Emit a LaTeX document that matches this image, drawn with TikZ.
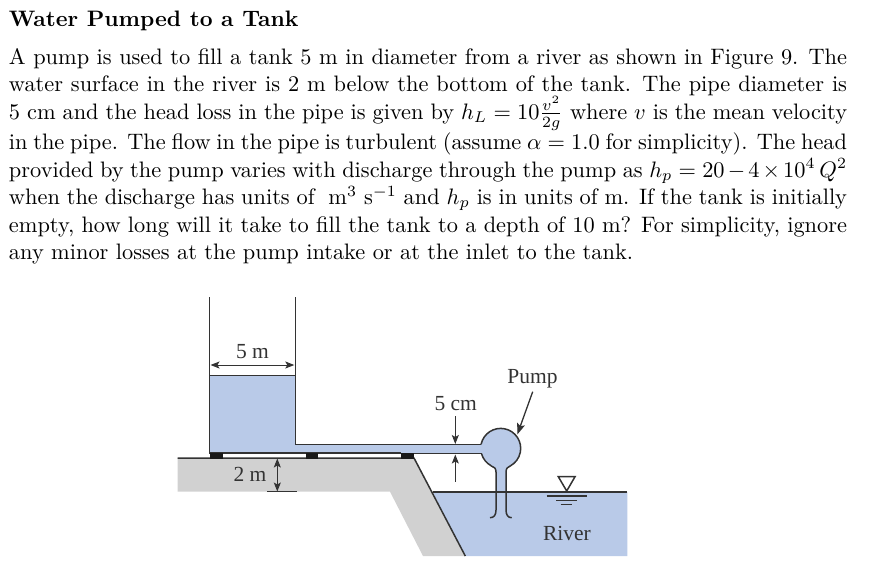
\documentclass[tikz,border=0pt]{standalone}
\usepackage[no-math]{fontspec}
\newfontfamily\figfont{Liberation Serif}
\usetikzlibrary{arrows.meta}
\definecolor{waterblue}{HTML}{B9CAE8}
\definecolor{groundgray}{HTML}{D1D1D1}
\definecolor{inkline}{HTML}{333333}
\tikzset{
  textline/.style={anchor=base west,inner sep=0pt,outer sep=0pt,scale=2.236},
  figlabel/.style={inner sep=0pt,font=\figfont\fontsize{21.5}{24}\selectfont,text=inkline},
  wall/.style={draw=inkline,line width=1.5pt},
  thinline/.style={draw=inkline,line width=1.1pt},
  dimarrow/.style={draw=inkline,line width=1pt,-{Stealth[length=9pt,width=7pt,inset=2pt]}},
  dimboth/.style={draw=inkline,line width=1pt,{Stealth[length=9pt,width=7pt,inset=2pt]}-{Stealth[length=9pt,width=7pt,inset=2pt]}},
  support/.style={fill=black!90,draw=none}
}
\newcommand{\fl}[1]{\makebox[374.8pt][s]{#1}}
\begin{document}
\begin{tikzpicture}[x=1pt,y=-1pt]
\useasboundingbox (0,0) rectangle (874,587);
% text
\node[textline] (title) at (9,26.7) {\bfseries Water Pumped to a Tank};
\node[textline] (l1) at (9,64.3) {\fl{A pump is used to fill a tank 5 m in diameter from a river as shown in Figure 9. The}};
\node[textline] (l2) at (9,91.7) {\fl{water surface in the river is 2 m below the bottom of the tank. The pipe diameter is}};
\node[textline] (l3) at (9,119.3) {\fl{5 cm and the head loss in the pipe is given by $h_L=10\frac{v^2}{2g}$ where $v$ is the mean velocity}};
\node[textline] (l4) at (9,149.5) {\fl{in the pipe. The flow in the pipe is turbulent (assume $\alpha=1.0$ for simplicity). The head}};
\node[textline] (l5) at (9,177) {\fl{provided by the pump varies with discharge through the pump as $h_p=20-4\times10^4\,Q^2$}};
\node[textline] (l6) at (9,204.5) {\fl{when the discharge has units of \ m$^3$ s$^{-1}$ and $h_p$ is in units of m. If the tank is initially}};
\node[textline] (l7) at (9,232.2) {\fl{empty, how long will it take to fill the tank to a depth of 10 m? For simplicity, ignore}};
\node[textline] (l8) at (9,259.7) {any minor losses at the pump intake or at the inlet to the tank.};
% ground
\fill[groundgray] (177.5,458) -- (414,458) -- (465.3,556) -- (423,556) -- (390,491.7) -- (177.5,491.7) -- cycle;
% river
\fill[waterblue] (432.7,492) -- (627.3,492) -- (627.3,556) -- (465.3,556) -- cycle;
% water in tank, pipe and pump
\fill[waterblue] (209.5,375.7) -- (295.3,375.7) -- (295.3,444.3) -- (490,444.3) -- (490,454) -- (209.5,453) -- cycle;
\fill[waterblue] (500.7,448.3) circle (20);
\fill[waterblue] (491,460) -- (491,465.8) .. controls (494,467) and (496,468) .. (496,472) -- (496,492) -- (506,492) -- (506,472) .. controls (506,468) and (508,467) .. (510.5,465.8) -- (510.5,460) -- cycle;
% outlines
\coordinate (pipeUp) at (481.1,444.3);
\coordinate (pipeLow) at (481.5,453.7);
\coordinate (jointL) at (491,465.8);
\coordinate (jointR) at (510.5,465.8);
\draw[wall] (209.5,297) -- (209.5,453) -- (401,453);
\draw[wall] (295.3,297) -- (295.3,444.3) -- (pipeUp);
\draw[thinline] (209.5,375.7) -- (295.3,375.7);
\draw[wall] (401,453.7) -- (pipeLow);
\draw[wall] (pipeUp) arc[start angle=191.8,end angle=420.8,radius=20];
\draw[wall] (pipeLow) arc[start angle=164,end angle=119,radius=20];
\draw[wall] (jointL) .. controls (494,467) and (496,468) .. (496,472) -- (496,510) .. controls (496,515) and (494,517.7) .. (490,517.7);
\draw[wall] (jointR) .. controls (508,467) and (506,468) .. (506,472) -- (506,510) .. controls (506,515) and (508,517.7) .. (511.7,517.7);
% ground lines
\draw[wall] (177.5,458) -- (414,458) -- (465.3,556);
\draw[wall] (432.7,492) -- (627.3,492);
% supports
\fill[support] (210,453) rectangle (223,458.5);
\fill[support] (305.7,453) rectangle (318.3,458.5);
\fill[support] (400.7,453) rectangle (414,458.5);
% water symbol
\draw[wall,fill=white] (558.3,476.7) -- (575,476.7) -- (566.7,491) -- cycle;
\draw[thinline] (546.7,496) -- (586.7,496);
\draw[thinline] (556,500.3) -- (576.7,500.3);
\draw[thinline] (560.7,504.7) -- (572.3,504.7);
% dimensions
\coordinate (d5a) at (210.5,365);
\coordinate (d5b) at (294.3,365);
\draw[dimboth] (d5a) -- (d5b);
\coordinate (d2a) at (277.3,458.5);
\coordinate (d2b) at (277.3,491.5);
\draw[dimboth] (d2a) -- (d2b);
\coordinate (t1) at (267,491.7);
\coordinate (t2) at (296.7,491.7);
\draw[thinline] (t1) -- (t2);
\coordinate (p1) at (455.3,416);
\coordinate (p2) at (455.3,444);
\coordinate (p3) at (455.3,481.7);
\coordinate (p4) at (455.3,454.5);
\draw[dimarrow] (p1) -- (p2);
\draw[dimarrow] (p3) -- (p4);
% labels
\node[figlabel] (five) at (252.5,352) {5 m};
\node[figlabel] (two) at (250,474.5) {2 m};
\node[figlabel] (cm) at (455.7,403.5) {5 cm};
\node[figlabel] (pumplabel) at (532.5,379) {Pump};
\node[figlabel] (river) at (567,533) {River};
\coordinate (pumpedge) at (517.3,434.5);
\coordinate (pumptail) at (532.7,391.7);
\draw[draw=inkline,line width=1.3pt,-{Stealth[length=11pt,width=8pt,inset=2pt]}] (pumptail) -- (pumpedge);
\end{tikzpicture}
\end{document}
